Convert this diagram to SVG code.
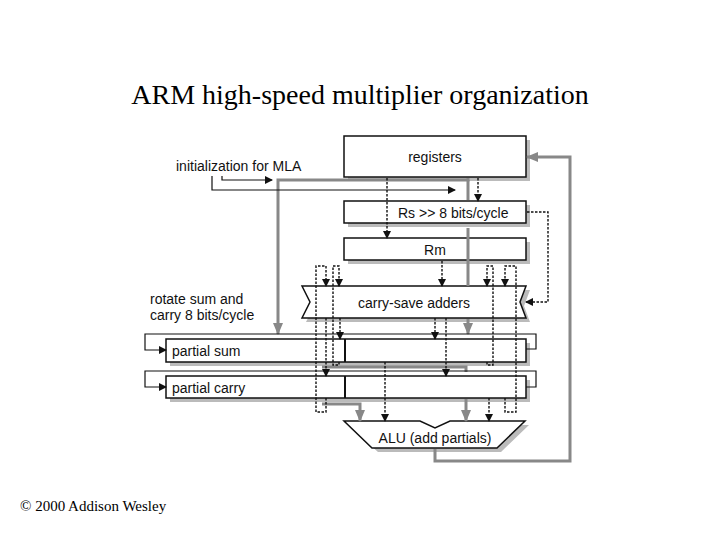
<svg xmlns="http://www.w3.org/2000/svg" width="720" height="540" viewBox="0 0 720 540">
<defs>
<marker id="ab" markerWidth="8" markerHeight="8" refX="7" refY="4" orient="auto" markerUnits="userSpaceOnUse"><path d="M0,0 L8,4 L0,8 Z" fill="#111"/></marker>
<marker id="ag" markerWidth="12" markerHeight="12" refX="11" refY="6" orient="auto" markerUnits="userSpaceOnUse"><path d="M0,1 L12,6 L0,11 Z" fill="#888"/></marker>
</defs>
<style>
.box{fill:#fff;stroke:#111;stroke-width:1.5}
.sh{fill:#bbb}
.t{font-family:"Liberation Sans",Arial,sans-serif;font-size:14px;fill:#111}
.g{fill:none;stroke:#888;stroke-width:3}
.d{fill:none;stroke:#111;stroke-width:1.4;stroke-dasharray:2.5,1.5}
.s{fill:none;stroke:#111;stroke-width:1.2}
</style>
<rect width="720" height="540" fill="#fff"/>
<text x="360" y="104" text-anchor="middle" font-family="Liberation Serif,serif" font-size="28">ARM high-speed multiplier organization</text>
<text x="20" y="511" font-family="Liberation Serif,serif" font-size="15">© 2000 Addison Wesley</text>

<g id="registers">
<rect class="sh" x="348" y="140" width="182" height="41"/>
<rect class="box" x="344" y="136" width="182" height="41"/>
<text class="t" x="435" y="162" text-anchor="middle">registers</text>
</g>
<g id="rs">
<rect class="sh" x="348" y="205" width="182" height="22"/>
<rect class="box" x="344" y="201" width="182" height="22"/>
<text class="t" x="398" y="218">Rs  &gt;&gt; 8 bits/cycle</text>
</g>
<g id="rm">
<rect class="sh" x="348" y="242" width="182" height="22"/>
<rect class="box" x="344" y="238" width="182" height="22"/>
<text class="t" x="435" y="255" text-anchor="middle">Rm</text>
</g>
<g id="csa">
<path class="sh" d="M306,290 H530 L524,306 L530,322 H306 L314,306 Z"/>
<path class="box" d="M302,286 H526 L520,302 L526,318 H302 L310,302 Z"/>
<text class="t" x="414" y="308" text-anchor="middle">carry-save adders</text>
</g>
<g id="psum">
<rect class="sh" x="170" y="343" width="360" height="23"/>
<rect class="box" x="166" y="339" width="360" height="23"/>
<line x1="345" y1="339" x2="345" y2="362" stroke="#111" stroke-width="2"/>
<text class="t" x="172" y="356">partial sum</text>
</g>
<g id="pcarry">
<rect class="sh" x="170" y="380" width="360" height="22"/>
<rect class="box" x="166" y="376" width="360" height="22"/>
<line x1="345" y1="376" x2="345" y2="398" stroke="#111" stroke-width="2"/>
<text class="t" x="172" y="393">partial carry</text>
</g>
<g id="alu">
<path class="sh" d="M348,425 H424 L439,432 L454,425 H529 L501,452 H378 Z"/>
<path class="box" d="M344,421 H420 L435,428 L450,421 H525 L497,448 H372 Z"/>
<text class="t" x="435" y="443" text-anchor="middle">ALU (add partials)</text>
</g>
<text class="t" x="176" y="171">initialization for MLA</text>
<text class="t" x="150" y="304">rotate sum and</text>
<text class="t" x="150" y="320">carry 8 bits/cycle</text>

<g id="connectors">
<path class="g" d="M468,178 V180 H278 V334" marker-end="url(#ag)"/>
<path class="g" d="M468,180 V200 M468,228 V286"/>
<path class="g" d="M468,319 V334" marker-end="url(#ag)"/>
<path class="g" d="M435,449 V461 H570 V157 H527" marker-end="url(#ag)"/>
<path class="g" d="M322,367 H466 V372"/>
<path class="g" d="M466,399 V421" marker-end="url(#ag)"/>
<path class="g" d="M322,404 H360 V421" marker-end="url(#ag)"/>
<path class="s" d="M212,176 V190 H455" marker-end="url(#ab)"/>
<path class="s" d="M222,176 V180 H272" marker-end="url(#ab)"/>
<path class="d" d="M387,178 V238" marker-end="url(#ab)"/>
<path class="d" d="M478,178 V201" marker-end="url(#ab)"/>
<path class="d" d="M527,212 H548 V302 H526" marker-end="url(#ab)"/>
<path class="d" d="M442,261 V286" marker-end="url(#ab)"/>
<path class="d" d="M326,398 V412 H316 V266 H326 V286" marker-end="url(#ab)"/>
<path class="d" d="M339,362 V365 H333 V266 H339 V286" marker-end="url(#ab)"/>
<path class="d" d="M487,362 V365 H493 V266 H487 V286" marker-end="url(#ab)"/>
<path class="d" d="M505,398 V412 H516 V266 H505 V286" marker-end="url(#ab)"/>
<path class="d" d="M326,318 V376" marker-end="url(#ab)"/>
<path class="d" d="M340,318 V339" marker-end="url(#ab)"/>
<path class="d" d="M435,318 V339" marker-end="url(#ab)"/>
<path class="d" d="M446,318 V376" marker-end="url(#ab)"/>
<path class="d" d="M385,362 V421" marker-end="url(#ab)"/>
<path class="d" d="M489,398 V421" marker-end="url(#ab)"/>
<path class="s" d="M526,349 H536 V334 H145 V350 H166" marker-end="url(#ab)"/>
<path class="s" d="M526,387 H536 V371 H145 V387 H166" marker-end="url(#ab)"/>
</g>
</svg>
